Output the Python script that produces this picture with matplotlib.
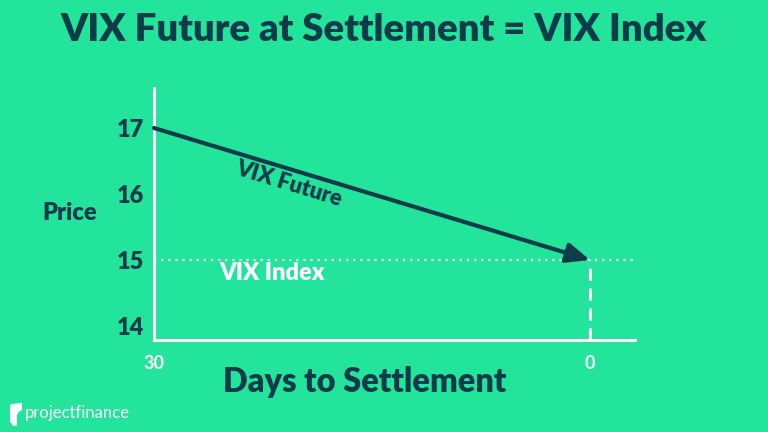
import matplotlib
matplotlib.use('Agg')
import matplotlib.pyplot as plt
import matplotlib.patches as mpatches

# data
days = [30, 0]
future_price = [17, 15]
index_price = 15
y_ticks = [14, 15, 16, 17]
x_ticks = [30, 0]
x_tick_labels = ['30', '0']

bg = '#22E49B'
dark = '#0D3B4A'

plt.rcParams['font.family'] = ['Lato', 'DejaVu Sans']

fig = plt.figure(figsize=(7.68, 4.32), dpi=100, facecolor=bg)
ax = fig.add_axes([0.2005, 0.213, 0.6263, 0.5833])
ax.set_facecolor(bg)

ax.set_xlim(30, -3.1)
ax.set_ylim(13.788, 17.606)

for s in ['top', 'right']:
    ax.spines[s].set_visible(False)
for s in ['left', 'bottom']:
    ax.spines[s].set_color('white')
    ax.spines[s].set_linewidth(2.2)

ax.set_yticks(y_ticks)
ax.set_yticklabels([str(t) for t in y_ticks], color=dark, fontsize=17, fontweight='heavy')
ax.set_xticks(x_ticks)
ax.set_xticklabels(x_tick_labels, color='white', fontsize=13, fontweight='bold')
ax.tick_params(axis='y', length=0, pad=7)
ax.tick_params(axis='x', length=0, pad=11)

# VIX index level and settlement marker
ax.axhline(index_price, color='white', linestyle=(0, (1, 2.2)), linewidth=1.6)
ax.plot([0, 0], [13.788, index_price], color='white', linestyle=(0, (4, 2.5)),
        linewidth=2.2, clip_on=False)

# VIX future arrow
ax.annotate('', xy=(days[1], future_price[1]), xytext=(days[0], future_price[0]),
            arrowprops=dict(arrowstyle='-|>,head_length=1.4,head_width=0.6',
                            color=dark, lw=3, shrinkA=0, shrinkB=0))

ax.text(20.7, 16.15, 'VIX Future', color=dark, fontsize=16, fontweight='heavy',
        rotation=-17, ha='center', va='center', rotation_mode='anchor')
ax.text(21.9, 14.8, 'VIX Index', color='white', fontsize=17, fontweight='heavy',
        ha='center', va='center')

fig.text(0.5, 0.93, 'VIX Future at Settlement = VIX Index', color=dark,
         fontsize=27.6, fontweight='heavy', ha='center', va='center')
fig.text(0.475, 0.115, 'Days to Settlement', color=dark, fontsize=23.5,
         fontweight='heavy', ha='center', va='center')
fig.text(0.091, 0.507, 'Price', color=dark, fontsize=17, fontweight='heavy',
         ha='center', va='center')

# logo
W, H = 768, 432
icon_px = [(11, 404), (22, 403), (22, 410), (19, 412), (17, 415), (17, 426),
           (13, 426), (10, 421), (10, 406)]
icon = mpatches.Polygon([(x / W, 1 - y / H) for x, y in icon_px], closed=True,
                        transform=fig.transFigure, facecolor='white', edgecolor='none')
fig.patches.append(icon)
fig.text(0.033, 0.043, 'projectfinance', color='white', fontsize=12,
         fontweight='normal', ha='left', va='center')

fig.savefig('out.png', dpi=100, facecolor=bg)
